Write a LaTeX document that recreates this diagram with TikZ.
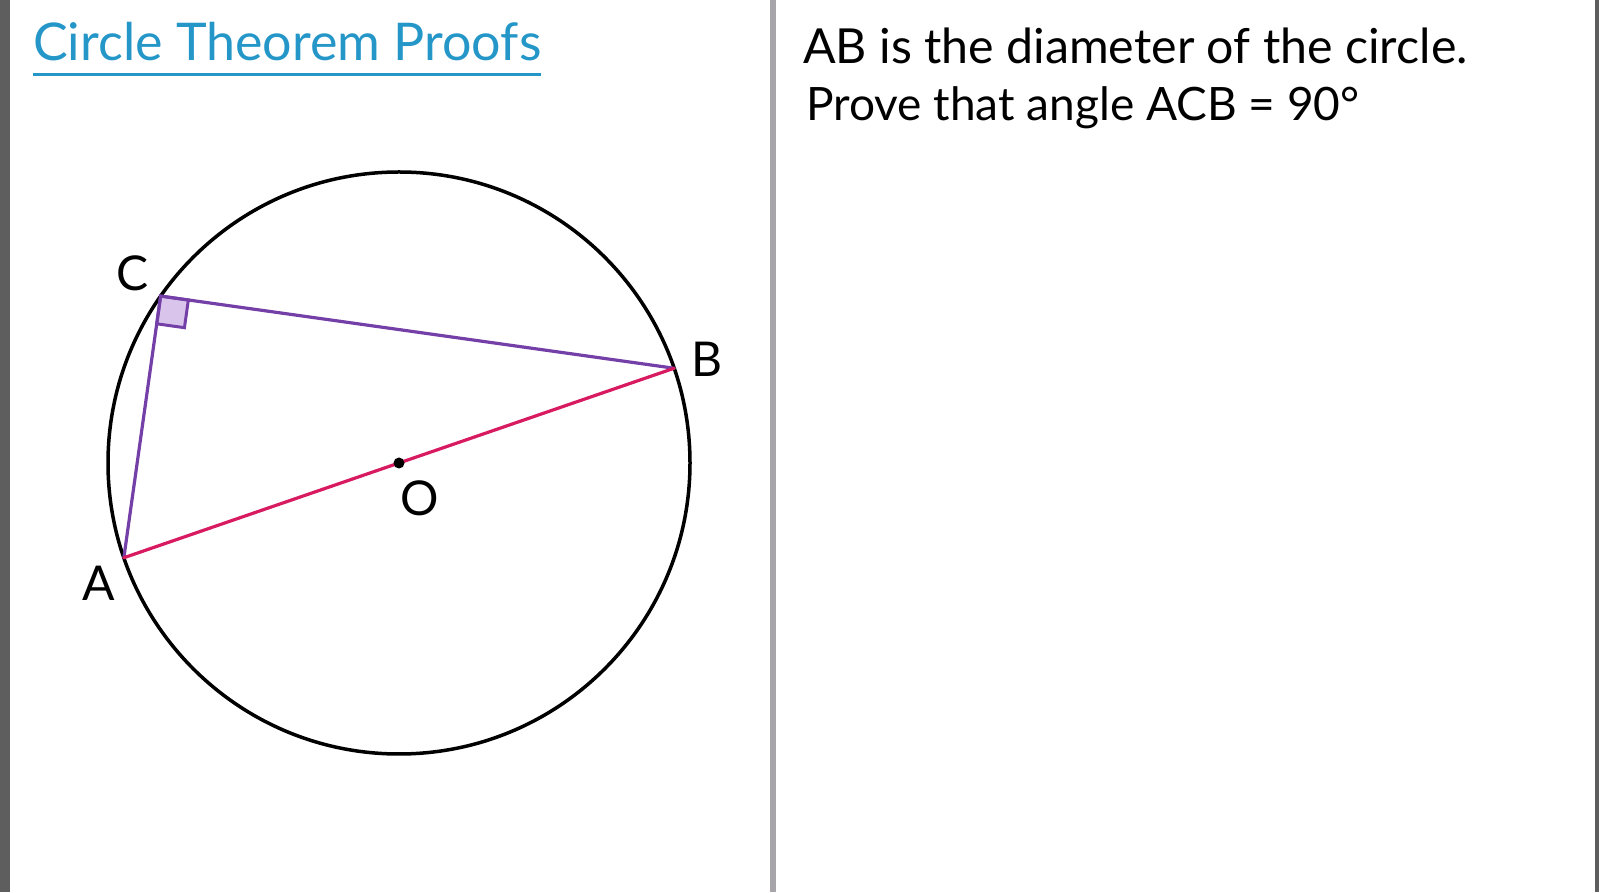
\documentclass[tikz,border=0pt]{standalone}
\usepackage{fontspec}
\setmainfont{Lato}
\usetikzlibrary{calc}
\definecolor{titleblue}{HTML}{2496C8}
\definecolor{diampink}{HTML}{D81A60}
\definecolor{chordpurple}{HTML}{7440A8}
\definecolor{anglefill}{HTML}{D9C4EC}
\definecolor{stripgrey}{HTML}{5E5E5E}
\definecolor{dividergrey}{HTML}{A7A5A9}
\tikzset{
  ptlabel/.style={font=\fontsize{48}{56}\selectfont, inner sep=0pt},
  bigtext/.style={font=\fontsize{46}{56}\selectfont, inner sep=0pt, anchor=west},
}
\begin{document}
\begin{tikzpicture}[x=1pt,y=1pt]
  \useasboundingbox (0,0) rectangle (1599,892);
  % frame
  \fill[stripgrey] (0,0) rectangle (10,892);
  \fill[stripgrey] (1595,0) rectangle (1599,892);
  \fill[dividergrey] (770,0) rectangle (776,892);
  % heading
  \node[bigtext, text=titleblue, font=\fontsize{52}{60}\selectfont] (title) at (33,850) {Circle Theorem Proofs};
  \draw[titleblue, line width=3pt] (33,817) -- (541,817);
  \node[bigtext, font=\fontsize{48.3}{56}\selectfont] (line1) at (803,846) {AB is the diameter of the circle.};
  \node[bigtext] (line2) at (806,784) {Prove that angle ACB = 90°};
  % circle and points
  \coordinate (O) at (399,429);
  \draw[line width=3.5pt] (O) circle (291);
  \coordinate (A) at ($(O)+(199:291)$);
  \coordinate (B) at ($(O)+(19:291)$);
  \coordinate (C) at ($(O)+(145:291)$);
  \filldraw[fill=anglefill, draw=chordpurple, line width=3pt]
    (C) -- ($(C)!28pt!(A)$) -- ($(C)!28pt!(A)+(C)!28pt!(B)-(C)$) -- ($(C)!28pt!(B)$) -- cycle;
  \begin{scope}[line width=3.2pt, line cap=round]
    \draw[chordpurple] (A) -- (C) -- (B);
    \draw[diampink] (A) -- (B);
  \end{scope}
  \fill (O) circle (5.5);
  \node[ptlabel] (labA) at (99,309) {A};
  \node[ptlabel] (labB) at (707,533) {B};
  \node[ptlabel] (labC) at (133,619) {C};
  \node[ptlabel] (labO) at (420,394) {O};
\end{tikzpicture}
\end{document}
